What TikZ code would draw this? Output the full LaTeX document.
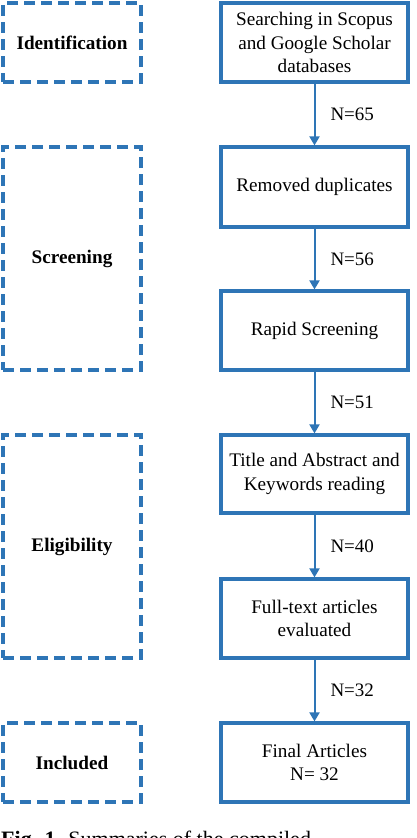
\documentclass[tikz,border=0pt]{standalone}
\usepackage{fontspec}
\setmainfont{Liberation Serif}
\usetikzlibrary{arrows.meta}
\definecolor{boxblue}{RGB}{46,117,182}
\tikzset{
  stepbox/.style={draw=boxblue, line width=3.2pt, rectangle, align=center,
    minimum width=187pt, inner sep=0pt,
    font=\fontsize{19.2}{23.5}\selectfont},
  phasebox/.style={draw=boxblue, line width=3.2pt, rectangle, align=center,
    dash pattern=on 11pt off 6pt, minimum width=138pt, inner sep=0pt,
    font=\fontsize{19.2}{23.5}\selectfont\bfseries},
  flow/.style={draw=boxblue, line width=2pt, -{Triangle[width=10pt,length=9pt]}},
  countlabel/.style={anchor=west, inner sep=0pt, xshift=15pt,
    font=\fontsize{19}{23}\selectfont}
}
\begin{document}
\begin{tikzpicture}[x=1pt,y=-1pt]
\useasboundingbox (0,0) rectangle (416,838);
% phase boxes
\node[phasebox, minimum height=79pt]  (ident) at (72,42.5) {Identification};
\node[phasebox, minimum height=223pt] (scr)   at (72,258.5) {Screening};
\node[phasebox, minimum height=223pt] (elig)  at (72,546.5) {Eligibility};
\node[phasebox, minimum height=79pt]  (incl)  at (72,762.5) {Included};
% step boxes
\node[stepbox, minimum height=79pt] (search) at (314.5,42.5) {Searching in Scopus\\and Google Scholar\\databases};
\node[stepbox, minimum height=80pt] (dup)    at (314.5,187) {Removed duplicates};
\node[stepbox, minimum height=79pt] (rapid)  at (314.5,330.5) {Rapid Screening};
\node[stepbox, minimum height=78pt] (title)  at (314.5,474) {Title and Abstract and\\Keywords reading};
\node[stepbox, minimum height=79pt] (full)   at (314.5,618.5) {Full-text articles\\evaluated};
\node[stepbox, minimum height=79pt] (final)  at (314.5,762.5) {Final Articles\\N= 32};
% connectors
\draw[flow] (search) -- node[countlabel] (n1) {N=65} (dup);
\draw[flow] (dup)    -- node[countlabel] (n2) {N=56} (rapid);
\draw[flow] (rapid)  -- node[countlabel] (n3) {N=51} (title);
\draw[flow] (title)  -- node[countlabel] (n4) {N=40} (full);
\draw[flow] (full)   -- node[countlabel] (n5) {N=32} (final);
% caption (cut off by the page edge, as in the reference)
\node[anchor=base west, inner sep=0pt, font=\fontsize{22}{26}\selectfont] (cap) at (1,846)
  {\textbf{Fig. 1.} Summaries of the compiled};
\end{tikzpicture}
\end{document}
